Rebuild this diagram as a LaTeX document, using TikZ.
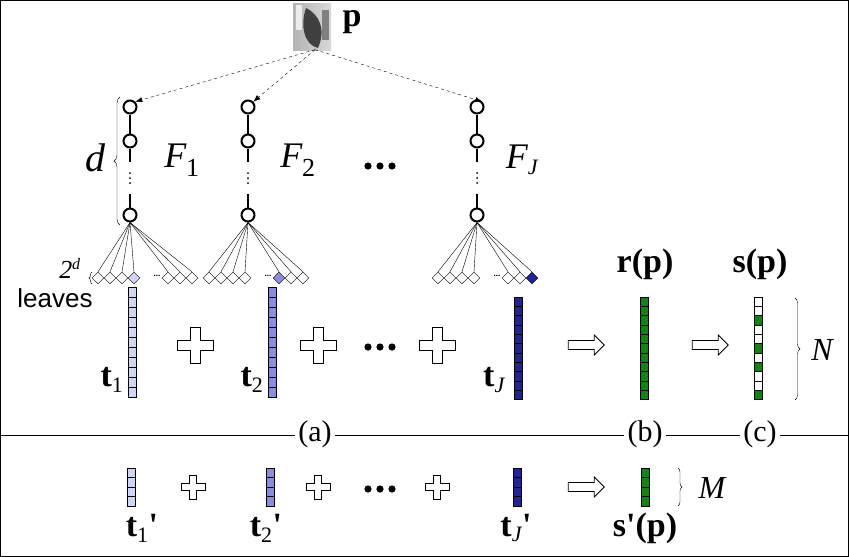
\documentclass[tikz,border=0pt]{standalone}
\usepackage{fontspec}
\setmainfont{Liberation Serif}
\newfontfamily\sansf{Liberation Sans}
\usetikzlibrary{shapes.geometric,shapes.arrows,arrows.meta,decorations.pathreplacing}
\definecolor{lb}{RGB}{208,212,245}
\definecolor{mb}{RGB}{140,140,220}
\definecolor{db}{RGB}{35,35,150}
\definecolor{gr}{RGB}{20,130,20}
\tikzset{
  circ/.style={circle,draw=black,line width=2pt,minimum size=13pt,inner sep=0pt},
  leaf/.style={diamond,draw,minimum size=12pt,inner sep=0pt,fill=white},
  cell/.style={draw,thin},
  harrow/.style={single arrow,draw,thick,minimum width=20pt,single arrow head extend=3pt,minimum height=36pt,inner sep=2pt},
  fs/.style={font=\fontsize{#1}{#1}\selectfont},
  bf/.style={font=\bfseries\fontsize{#1}{#1}\selectfont},
  it/.style={font=\itshape\fontsize{#1}{#1}\selectfont},
  bigdot/.style={circle,fill,inner sep=0pt,minimum size=#1},
}
\newcommand\cellbar[5]{%
  \foreach \c [count=\i from 0] in {#5} {
    \draw[cell,fill=\c] (#1-4,#2+\i*#3) rectangle (#1+4,#2+\i*#3+#3);
  }}
\newcommand\plussign[4]{%
  \draw[thick,fill=white] (#1-#4,#2-#3) -- (#1+#4,#2-#3) -- (#1+#4,#2-#4) -- (#1+#3,#2-#4) -- (#1+#3,#2+#4) -- (#1+#4,#2+#4) -- (#1+#4,#2+#3) -- (#1-#4,#2+#3) -- (#1-#4,#2+#4) -- (#1-#3,#2+#4) -- (#1-#3,#2-#4) -- (#1-#4,#2-#4) -- cycle;}
\newcommand\bullets[2]{\foreach \dx in {-12,0,12} \fill (#1+\dx,#2) circle (3.6pt);}
\begin{document}
\begin{tikzpicture}[x=1pt,y=-1pt]
\useasboundingbox (0,0) rectangle (849,557);
\draw (0.5,0.5) rectangle (848.5,556.5);
% patch image
\shade[left color=gray!60,right color=gray!30] (293,3) rectangle (331,50);
\fill[black!75] (306,8) .. controls (300,25) and (304,45) .. (318,48) .. controls (326,30) and (320,15) .. (306,8);
\fill[white!85!gray] (296,5) rectangle (302,30);
\fill[black!50] (322,10) rectangle (329,40);
\node[inner sep=0pt] (img) at (312,27) {};
\node[bf=34] (p) at (352,22) {p};
% trees
\foreach \n/\x in {1/130,2/248,J/477} {
  \node[circ] (a\n) at (\x,107) {};
  \node[circ] (b\n) at (\x,141) {};
  \coordinate (u\n) at (\x,162);
  \coordinate (w\n) at (\x,194);
  \foreach \dy in {-5,0,5} \fill (\x,178+\dy) circle (1pt);
  \node[circ] (c\n) at (\x,215) {};
  \draw[line width=1.4pt] (a\n) -- (b\n) -- (u\n);
  \draw[line width=1.4pt] (w\n) -- (c\n);
  \draw[dashed,-{Latex[length=7pt]}] (img.south) ++(3,22) -- (a\n.north east);
}
\node[it=36] at (182,160) {F\textsubscript{\fontsize{26}{26}\upshape 1}};
\node[it=36] at (298,160) {F\textsubscript{\fontsize{26}{26}\upshape 2}};
\node[it=36] at (522,160) {F\textsubscript{\fontsize{22}{22}\itshape J}};
\bullets{380}{166}
\draw[decorate,decoration={brace,amplitude=6pt}] (120,225) -- (120,97);
\node[it=40] at (95,158) {d};
% leaves
\newcommand\leafrow[4]{%
  \foreach \k in {1,...,7} {
    \pgfmathsetmacro\lx{#2+(\k<5 ? (\k-1)*12 : (\k-1)*12+22)}
    \ifnum\k=#3 \def\lc{#4}\else\def\lc{white}\fi
    \node[leaf,fill=\lc] (l#1\k) at (\lx,278) {};
    \draw[thin] (c#1.south) -- (l#1\k.north);
  }
  \node[font=\small\bfseries] at (#2+48+11,276) {...};}
\leafrow{1}{98}{4}{lb}
\leafrow{2}{209}{5}{mb}
\leafrow{J}{438}{7}{db}
\draw[decorate,decoration={brace,amplitude=3pt}] (92,284) -- (92,272);
\node[it=26] at (70,268) {2\textsuperscript{\fontsize{16}{16}\selectfont d}};
\node[font=\sansf\fontsize{26}{26}\selectfont] at (55,298) {leaves};
% bars
\cellbar{132}{287}{10}{11}{lb,lb,lb,lb,lb,lb,lb,lb,lb,lb,lb}
\cellbar{272}{287}{10}{11}{mb,mb,mb,mb,mb,mb,mb,mb,mb,mb,mb}
\cellbar{518}{297}{9.3}{11}{db,db,db,db,db,db,db,db,db,db,db}
\cellbar{644}{297}{9.3}{11}{gr,gr,gr,gr,gr,gr,gr,gr,gr,gr,gr}
\cellbar{758}{297}{9.3}{11}{white,white,gr,white,white,gr,white,gr,white,white,gr}
\node[bf=34] at (112,380) {t\textsubscript{\fontsize{22}{22}\mdseries 1}};
\node[bf=34] at (252,380) {t\textsubscript{\fontsize{22}{22}\mdseries 2}};
\node[bf=34] at (494,380) {t\textsubscript{\fontsize{22}{22}\mdseries\itshape J}};
\node[bf=34] at (645,264) {r(p)};
\node[bf=34] at (760,264) {s(p)};
\plussign{195}{345}{18}{5}
\plussign{318}{345}{18}{5}
\plussign{437}{345}{18}{5}
\bullets{380}{347}
\node[harrow] (ar1) at (584,345) {};
\node[harrow] (ar2) at (708,345) {};
\draw[decorate,decoration={brace,amplitude=5pt}] (795,298) -- (795,400);
\node[it=32] at (822,350) {N};
% divider
\node[fs=30] (la) at (315,434) {(a)};
\node[fs=30] (lb) at (645,434) {(b)};
\node[fs=30] (lc) at (760,434) {(c)};
\draw (0,435) -- (la.west |- 0,435) (la.east |- 0,435) -- (lb.west |- 0,435)
      (lb.east |- 0,435) -- (lc.west |- 0,435) (lc.east |- 0,435) -- (849,435);
% bottom
\cellbar{131}{468}{9.5}{4}{lb,lb,lb,lb}
\cellbar{270}{468}{9.5}{4}{mb,mb,mb,mb}
\cellbar{517}{468}{9.5}{4}{db,db,db,db}
\cellbar{645}{468}{9.5}{4}{gr,gr,gr,gr}
\plussign{193}{487}{12}{3.5}
\plussign{318}{487}{12}{3.5}
\plussign{437}{487}{12}{3.5}
\bullets{380}{489}
\node[harrow] (ar3) at (584,487) {};
\draw[decorate,decoration={brace,amplitude=4pt}] (678,468) -- (678,506);
\node[it=32] at (712,488) {M};
\node[bf=34] at (142,528) {t\textsubscript{\fontsize{22}{22}\mdseries 1}\textquotesingle};
\node[bf=34] at (266,528) {t\textsubscript{\fontsize{22}{22}\mdseries 2}\textquotesingle};
\node[bf=34] at (516,528) {t\textsubscript{\fontsize{22}{22}\mdseries\itshape J}\textquotesingle};
\node[bf=34] at (645,528) {s\textquotesingle(p)};
\end{tikzpicture}
\end{document}
